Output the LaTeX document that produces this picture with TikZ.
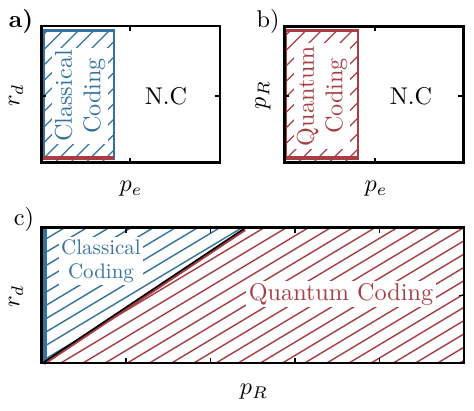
\documentclass[tikz,border=0pt]{standalone}
\usepackage{tikz}
\definecolor{cblue}{RGB}{52,115,160}
\definecolor{cred}{RGB}{168,62,68}
\begin{document}
\begin{tikzpicture}[x=1pt,y=-1pt,
  frame/.style={line width=2.6pt},
  tickmark/.style={line width=1.1pt},
  hatchb/.style={cblue,line width=1.4pt},
  hatchr/.style={cred,line width=1.4pt},
  region/.style={fill=white,inner sep=1pt},
  txt/.style={font=\fontsize{10}{11.8}\selectfont,scale=2.42,transform shape},
  txtc/.style={font=\fontsize{10}{11.5}\selectfont,scale=2.1,transform shape}]
\useasboundingbox (0,0) rectangle (474,410);

% ---------- panel a ----------
\begin{scope}
  \clip (42,29) rectangle (114,160);
  \foreach \k in {0,...,14} \draw[hatchb] (42,36+\k*15.5) -- ++(160,-160);
\end{scope}
\draw[cblue,line width=2.6pt] (43.5,160) -- (43.5,30.5) -- (114,30.5) -- (114,160);
\draw[cred,line width=4pt] (42,158) -- (114,158);
\node[region,txt,text=cblue,rotate=90,align=center] (ta) at (80,96) {Classical\\Coding};
\node[region,txt] (na) at (166,96) {N.C};
\draw[frame] (41.7,26) rectangle (220,162.7);
\draw[tickmark] (130,27) -- (130,31) (130,162) -- (130,158) (42,96) -- (46,96) (219,96) -- (215,96);
\node[txt] (la) at (21,21) {\bfseries a)};
\node[txt,rotate=90] (ya) at (16,95) {$r_d$};
\node[txt] (xa) at (131,189) {$p_e$};

% ---------- panel b ----------
\begin{scope}
  \clip (285,29) rectangle (358,160);
  \foreach \k in {0,...,14} \draw[hatchr] (285,36+\k*15.5) -- ++(160,-160);
\end{scope}
\draw[cred,line width=2.6pt] (286,160) -- (286,30.5) -- (358,30.5) -- (358,160);
\draw[cred,line width=4pt] (285,158) -- (358,158);
\node[region,txt,text=cred,rotate=90,align=center] (tb) at (322,96) {Quantum\\Coding};
\node[region,txt] (nb) at (411,96) {N.C};
\draw[frame] (284.3,26.3) rectangle (463.3,162.7);
\draw[tickmark] (375,27) -- (375,31) (375,162) -- (375,158) (285,96) -- (289,96) (462,96) -- (458,96);
\node[txt] (lb) at (268,21) {b)};
\node[txt,rotate=90] (yb) at (263,95) {$p_R$};
\node[txt] (xb) at (376,189) {$p_e$};

% ---------- panel c ----------
\coordinate (d0) at (44,362);
\coordinate (d1) at (245,228);
\begin{scope}
  \clip (42,228) -- (d1) -- (d0) -- (42,362) -- cycle;
  \foreach \k in {0,...,12} \draw[hatchb] (42,228+\k*13.3) -- ++(400,-240);
\end{scope}
\begin{scope}
  \clip (d0) -- (d1) -- (464,228) -- (464,363) -- (42,363) -- cycle;
  \foreach \k in {0,...,32} \draw[hatchr] (42,228+\k*13.3) -- ++(600,-360);
\end{scope}
\draw[cblue,line width=5pt] (44.5,228) -- (44.5,362);
\draw[cred,line width=3pt] ([yshift=-1.6pt]d0) -- ([yshift=-1.6pt]d1);
\draw[black,line width=1.6pt] (d0) -- (d1);
\node[region,txtc,text=cblue,align=center] (tc1) at (101,261) {Classical\\Coding};
\node[region,txt,text=cred] (tc2) at (341,294) {Quantum Coding};
\draw[frame] (41.7,227.7) rectangle (464,363);
\foreach \xx in {126,210.7,295,379.7}
  \draw[tickmark] (\xx,228.7) -- (\xx,232.7) (\xx,362) -- (\xx,358);
\draw[tickmark] (463,295.7) -- (459,295.7);
\node[txt] (lc) at (24,219) {c)};
\node[txt,rotate=90] (yc) at (16,296) {$r_d$};
\node[txt] (xc) at (254,392) {$p_R$};
\end{tikzpicture}
\end{document}
